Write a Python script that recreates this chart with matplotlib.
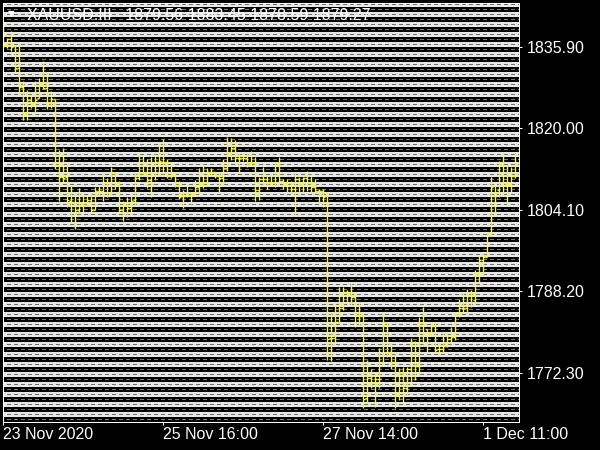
import matplotlib
matplotlib.use('Agg')
import matplotlib.pyplot as plt
from matplotlib.patches import Rectangle
import numpy as np

# XAUUSD hourly OHLC bars
opens = [1840.3, 1836.0, 1837.4, 1836.0, 1831.7, 1828.0, 1822.7, 1825.5, 1824.9, 1825.9,
         1828.6, 1827.8, 1824.9, 1825.7, 1812.8, 1810.5, 1810.5, 1805.8, 1805.6, 1804.0,
         1805.0, 1805.0, 1806.0, 1804.0, 1807.7, 1807.7, 1809.3, 1807.3, 1811.2, 1809.3,
         1804.0, 1805.0, 1804.4, 1806.0, 1810.3, 1811.2, 1811.2, 1809.9, 1810.8, 1813.4,
         1813.4, 1813.4, 1810.6, 1810.8, 1808.9, 1806.8, 1806.8, 1806.9, 1807.1, 1808.5,
         1809.1, 1809.3, 1811.4, 1811.4, 1810.6, 1810.3, 1812.2, 1815.1, 1816.1, 1814.2,
         1814.2, 1814.2, 1813.2, 1813.2, 1807.9, 1810.1, 1810.1, 1809.3, 1809.3, 1813.2,
         1809.7, 1809.3, 1809.3, 1808.1, 1810.1, 1809.1, 1810.3, 1809.3, 1808.5, 1807.7,
         1807.7, 1806.9, 1779.1, 1779.1, 1782.2, 1784.9, 1788.0, 1788.0, 1787.1, 1783.5,
         1783.4, 1767.4, 1771.3, 1770.3, 1771.1, 1774.4, 1782.0, 1776.3, 1774.4, 1768.4,
         1772.2, 1769.3, 1773.0, 1778.3, 1773.6, 1782.0, 1780.8, 1779.8, 1781.4, 1776.9,
         1776.9, 1777.5, 1778.9, 1779.3, 1783.7, 1784.9, 1784.9, 1787.4, 1786.5, 1791.5,
         1794.3, 1794.9, 1799.3, 1806.8, 1807.9, 1813.0, 1809.1, 1809.1, 1810.6]
highs = [1840.5, 1837.6, 1838.9, 1836.2, 1836.2, 1829.2, 1827.4, 1826.4, 1829.2, 1829.8,
         1833.1, 1830.7, 1827.2, 1825.7, 1815.7, 1816.1, 1813.2, 1808.9, 1806.9, 1808.3,
         1807.3, 1806.9, 1807.3, 1808.5, 1808.7, 1811.2, 1810.3, 1812.4, 1811.2, 1809.7,
         1805.8, 1806.6, 1806.8, 1811.2, 1815.1, 1814.5, 1814.0, 1814.4, 1814.9, 1816.9,
         1817.9, 1814.0, 1813.4, 1811.2, 1809.7, 1807.9, 1808.9, 1807.3, 1809.9, 1812.2,
         1813.0, 1812.2, 1812.2, 1811.4, 1811.4, 1814.0, 1818.3, 1818.1, 1817.7, 1815.1,
         1815.1, 1815.1, 1815.5, 1814.4, 1810.5, 1812.4, 1810.8, 1810.8, 1813.4, 1814.4,
         1810.1, 1810.1, 1809.7, 1811.2, 1810.5, 1810.5, 1811.6, 1811.0, 1810.1, 1808.1,
         1808.1, 1807.3, 1784.1, 1785.9, 1789.0, 1789.0, 1788.4, 1789.8, 1787.8, 1785.9,
         1783.4, 1774.8, 1773.0, 1772.2, 1777.1, 1784.1, 1782.0, 1778.1, 1775.9, 1773.2,
         1773.4, 1773.4, 1779.1, 1778.5, 1783.2, 1785.1, 1780.8, 1782.0, 1782.0, 1778.1,
         1780.0, 1780.0, 1781.2, 1783.9, 1786.7, 1787.8, 1788.6, 1788.4, 1792.3, 1795.3,
         1795.6, 1799.5, 1810.5, 1808.9, 1813.6, 1815.1, 1812.6, 1812.4, 1815.3]
lows = [1835.6, 1835.6, 1835.0, 1830.9, 1826.8, 1821.6, 1821.6, 1823.9, 1822.7, 1825.9,
        1827.6, 1823.7, 1823.9, 1812.0, 1805.8, 1809.5, 1804.6, 1801.7, 1800.3, 1803.4,
        1803.4, 1804.8, 1803.6, 1804.0, 1806.9, 1805.8, 1806.6, 1807.3, 1808.1, 1803.4,
        1801.9, 1802.7, 1803.6, 1805.0, 1809.9, 1811.0, 1808.3, 1806.6, 1809.9, 1810.6,
        1811.0, 1810.3, 1810.3, 1808.5, 1806.2, 1804.4, 1806.6, 1805.2, 1807.0, 1806.9,
        1808.3, 1808.9, 1810.8, 1810.3, 1807.3, 1808.9, 1811.6, 1813.8, 1813.4, 1811.2,
        1813.6, 1812.4, 1812.8, 1805.8, 1806.0, 1808.7, 1808.1, 1808.9, 1808.5, 1809.5,
        1808.1, 1807.3, 1807.1, 1803.1, 1807.3, 1807.3, 1807.7, 1807.3, 1807.3, 1805.4,
        1804.6, 1774.8, 1774.6, 1778.3, 1782.0, 1784.5, 1786.1, 1785.5, 1781.2, 1781.6,
        1765.4, 1766.4, 1769.3, 1765.6, 1769.3, 1774.2, 1775.3, 1773.0, 1765.4, 1767.0,
        1766.6, 1768.0, 1769.7, 1770.9, 1771.9, 1777.9, 1776.1, 1779.6, 1776.1, 1775.7,
        1776.1, 1777.3, 1777.9, 1778.7, 1783.2, 1784.1, 1783.9, 1785.1, 1785.9, 1789.8,
        1791.1, 1794.9, 1799.1, 1803.4, 1806.6, 1807.3, 1805.0, 1807.5, 1810.3]
closes = [1836.2, 1837.4, 1835.8, 1831.7, 1828.0, 1822.7, 1825.5, 1824.7, 1825.5, 1828.8,
          1827.8, 1824.9, 1825.7, 1812.8, 1810.5, 1810.3, 1806.0, 1805.6, 1804.0, 1805.0,
          1805.0, 1806.0, 1804.0, 1807.7, 1807.7, 1809.3, 1806.8, 1811.2, 1809.3, 1804.0,
          1805.0, 1804.4, 1805.8, 1810.3, 1810.8, 1811.2, 1809.9, 1809.3, 1813.4, 1813.6,
          1813.4, 1810.6, 1810.8, 1808.9, 1806.6, 1806.8, 1806.9, 1807.1, 1808.5, 1809.1,
          1809.3, 1811.4, 1811.4, 1810.6, 1810.3, 1812.2, 1815.1, 1816.1, 1814.2, 1814.2,
          1814.2, 1813.2, 1813.2, 1807.9, 1810.1, 1810.1, 1809.3, 1809.3, 1813.2, 1809.7,
          1809.3, 1809.3, 1808.1, 1810.1, 1809.1, 1810.3, 1809.3, 1808.5, 1807.7, 1807.7,
          1806.6, 1778.9, 1779.1, 1782.2, 1784.9, 1788.0, 1788.0, 1787.1, 1783.5, 1783.4,
          1767.2, 1771.3, 1770.3, 1771.1, 1771.1, 1781.6, 1776.3, 1774.4, 1768.0, 1772.2,
          1769.3, 1773.0, 1778.3, 1773.6, 1782.0, 1782.0, 1779.8, 1781.4, 1776.7, 1776.9,
          1777.5, 1778.9, 1779.3, 1783.7, 1784.9, 1784.9, 1787.2, 1787.4, 1791.5, 1794.3,
          1794.9, 1799.5, 1808.5, 1806.8, 1813.0, 1809.3, 1809.1, 1810.6, 1813.2]

price_ticks = [1835.90, 1820.00, 1804.10, 1788.20, 1772.30]
time_ticks = [0, 40, 80, 120]
time_labels = ['23 Nov 2020', '25 Nov 16:00', '27 Nov 14:00', '1 Dec 11:00']
header = 'XAUUSD.III   1879.56 1883.45 1878.59 1879.27'

x = np.arange(len(opens))

fig = plt.figure(figsize=(6, 4.5), dpi=100, facecolor='black')
ax = fig.add_axes([2.5 / 600, 28.5 / 450, 516 / 600, 419 / 450])
ax.set_facecolor('black')

# striped background: light / dark bands, each with a dashed grey line
for k in range(-1, 43):
    top = 1.7 + 10 * k
    ax.add_patch(Rectangle((0, 1 - (top + 5) / 450), 1, 5 / 450, transform=fig.transFigure,
                           facecolor='#e6e6e6', edgecolor='none', zorder=0, antialiased=False))
    for yy, col in [(top + 2.5, '#6e6e6e'), (top + 7.5, '#7c7c7c')]:
        ax.plot([0, 1], [1 - yy / 450] * 2, transform=fig.transFigure, color=col,
                lw=0.72, dashes=(3, 3), zorder=1, antialiased=False)

yellow = '#ffff00'
ax.vlines(x, lows, highs, color=yellow, lw=1.0, zorder=3)
ax.hlines(opens, x - 0.5, x, color=yellow, lw=1.0, zorder=3)
ax.hlines(closes, x, x + 0.5, color=yellow, lw=1.0, zorder=3)

ax.set_xlim(-0.2, 128.8)
ax.set_ylim(1762.78, 1844.48)

for s in ax.spines.values():
    s.set_color('white')
    s.set_linewidth(0.72)
    s.set_zorder(5)

font = 'Liberation Sans'
ax.yaxis.tick_right()
ax.set_yticks(price_ticks)
ax.set_yticklabels([f'{v:.2f}' for v in price_ticks], fontsize=11.5, family=font, color='white')
ax.set_xticks(time_ticks)
ax.set_xticklabels(time_labels, fontsize=11.5, family=font, color='white', ha='left')
ax.tick_params(axis='both', colors='white', length=2.5, width=0.72, direction='out')
ax.tick_params(axis='y', pad=3.5)
ax.tick_params(axis='x', pad=1.5)

fig.text(27 / 600, 1 - 15 / 450, header, color='white', fontsize=11.5, family=font,
         va='center', ha='left')
fig.text(11 / 600, 1 - 14 / 450, '\u25bc', color='white', fontsize=6, family='DejaVu Sans',
         va='center', ha='center')

fig.savefig('out.png', dpi=100, facecolor='black')
